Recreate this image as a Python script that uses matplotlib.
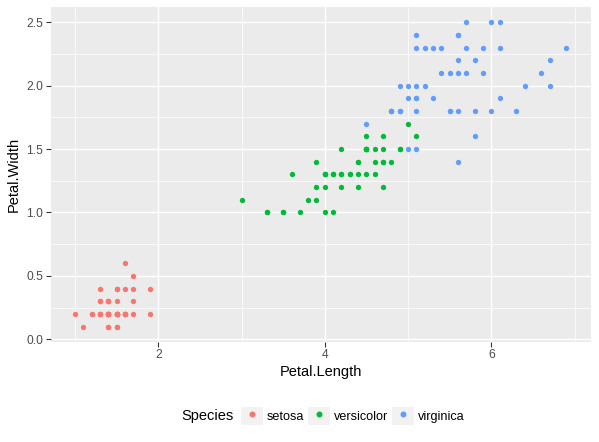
import matplotlib
matplotlib.use("Agg")
import matplotlib.pyplot as plt
from matplotlib.lines import Line2D
from matplotlib.patches import Rectangle
from matplotlib.legend_handler import HandlerTuple

plt.rcParams['font.family'] = ['Liberation Sans', 'DejaVu Sans']

# iris petal measurements, per species
setosa_len = [1.4, 1.4, 1.3, 1.5, 1.4, 1.7, 1.4, 1.5, 1.4, 1.5, 1.5, 1.6, 1.4, 1.1, 1.2, 1.5, 1.3,
              1.4, 1.7, 1.5, 1.7, 1.5, 1.0, 1.7, 1.9, 1.6, 1.6, 1.5, 1.4, 1.6, 1.6, 1.5, 1.5, 1.4,
              1.5, 1.2, 1.3, 1.4, 1.3, 1.5, 1.3, 1.3, 1.3, 1.6, 1.9, 1.4, 1.6, 1.4, 1.5, 1.4]
setosa_wid = [0.2, 0.2, 0.2, 0.2, 0.2, 0.4, 0.3, 0.2, 0.2, 0.1, 0.2, 0.2, 0.1, 0.1, 0.2, 0.4, 0.4,
              0.3, 0.3, 0.3, 0.2, 0.4, 0.2, 0.5, 0.2, 0.2, 0.4, 0.2, 0.2, 0.2, 0.2, 0.4, 0.1, 0.2,
              0.2, 0.2, 0.2, 0.1, 0.2, 0.2, 0.3, 0.3, 0.2, 0.6, 0.4, 0.3, 0.2, 0.2, 0.2, 0.2]
versicolor_len = [4.7, 4.5, 4.9, 4.0, 4.6, 4.5, 4.7, 3.3, 4.6, 3.9, 3.5, 4.2, 4.0, 4.7, 3.6, 4.4, 4.5,
                  4.1, 4.5, 3.9, 4.8, 4.0, 4.9, 4.7, 4.3, 4.4, 4.8, 5.0, 4.5, 3.5, 3.8, 3.7, 3.9, 5.1,
                  4.5, 4.5, 4.7, 4.4, 4.1, 4.0, 4.4, 4.6, 4.0, 3.3, 4.2, 4.2, 4.2, 4.3, 3.0, 4.1]
versicolor_wid = [1.4, 1.5, 1.5, 1.3, 1.5, 1.3, 1.6, 1.0, 1.3, 1.4, 1.0, 1.5, 1.0, 1.4, 1.3, 1.4, 1.5,
                  1.0, 1.5, 1.1, 1.8, 1.3, 1.5, 1.2, 1.3, 1.4, 1.4, 1.7, 1.5, 1.0, 1.1, 1.0, 1.2, 1.6,
                  1.5, 1.6, 1.5, 1.3, 1.3, 1.3, 1.2, 1.4, 1.2, 1.0, 1.3, 1.2, 1.3, 1.3, 1.1, 1.3]
virginica_len = [6.0, 5.1, 5.9, 5.6, 5.8, 6.6, 4.5, 6.3, 5.8, 6.1, 5.1, 5.3, 5.5, 5.0, 5.1, 5.3, 5.5,
                 6.7, 6.9, 5.0, 5.7, 4.9, 6.7, 4.9, 5.7, 6.0, 4.8, 4.9, 5.6, 5.8, 6.1, 6.4, 5.6, 5.1,
                 5.6, 6.1, 5.6, 5.5, 4.8, 5.4, 5.6, 5.1, 5.1, 5.9, 5.7, 5.2, 5.0, 5.2, 5.4, 5.1]
virginica_wid = [2.5, 1.9, 2.1, 1.8, 2.2, 2.1, 1.7, 1.8, 1.8, 2.5, 2.0, 1.9, 2.1, 2.0, 2.4, 2.3, 1.8,
                 2.2, 2.3, 1.5, 2.3, 2.0, 2.0, 1.8, 2.1, 1.8, 1.8, 1.8, 2.1, 1.6, 1.9, 2.0, 2.2, 1.5,
                 1.4, 2.3, 2.4, 1.8, 1.8, 2.1, 2.4, 2.3, 1.9, 2.3, 2.5, 2.3, 1.9, 2.0, 2.3, 1.8]

species = ['setosa', 'versicolor', 'virginica']
colors = ['#F8766D', '#00BA38', '#619CFF']
xs = [setosa_len, versicolor_len, virginica_len]
ys = [setosa_wid, versicolor_wid, virginica_wid]

W, H = 599, 442
fig = plt.figure(figsize=(W / 96, H / 96), dpi=96)
ax = fig.add_axes([50.5 / W, 1 - 341.8 / H, (590.8 - 50.5) / W, (341.8 - 7.1) / H])
ax.set_facecolor('#EBEBEB')

for x, y, c in zip(xs, ys, colors):
    ax.scatter(x, y, s=16, color=c, linewidths=0, zorder=3)

ax.set_xlim(0.705, 7.195)
ax.set_ylim(-0.02, 2.62)
ax.set_xticks([2, 4, 6])
ax.set_yticks([0.0, 0.5, 1.0, 1.5, 2.0, 2.5])
ax.set_yticklabels(['0.0', '0.5', '1.0', '1.5', '2.0', '2.5'])
ax.set_xticks([1, 3, 5, 7], minor=True)
ax.set_yticks([0.25, 0.75, 1.25, 1.75, 2.25], minor=True)
ax.grid(which='major', color='white', linewidth=1.1, zorder=0)
ax.grid(which='minor', color='white', linewidth=0.55, zorder=0)
ax.set_axisbelow(True)
for s in ax.spines.values():
    s.set_visible(False)
ax.tick_params(which='major', length=3.7, width=0.8, color='#333333',
               labelsize=9, labelcolor='#4D4D4D', pad=2)
ax.tick_params(which='minor', length=0)

ax.set_xlabel('Petal.Length', fontsize=11, labelpad=3)
ax.set_ylabel('Petal.Width', fontsize=11, labelpad=4)

handles = [(Rectangle((0, 0), 1, 1, facecolor='#F2F2F2', edgecolor='none'),
            Line2D([], [], marker='o', linestyle='none', markersize=4.5,
                   markerfacecolor=c, markeredgewidth=0)) for c in colors]
leg = fig.legend(handles, species, loc='center left',
                 bbox_to_anchor=(241 / W, 1 - 416 / H), ncol=3, frameon=False,
                 fontsize=9.5, handlelength=1.75, handleheight=1.75,
                 handletextpad=0.25, columnspacing=0.35, borderpad=0, borderaxespad=0,
                 handler_map={tuple: HandlerTuple(ndivide=1, pad=0)})
fig.text(234 / W, 1 - 416 / H, 'Species', fontsize=11, ha='right', va='center')

fig.savefig('out.png', dpi=96)
